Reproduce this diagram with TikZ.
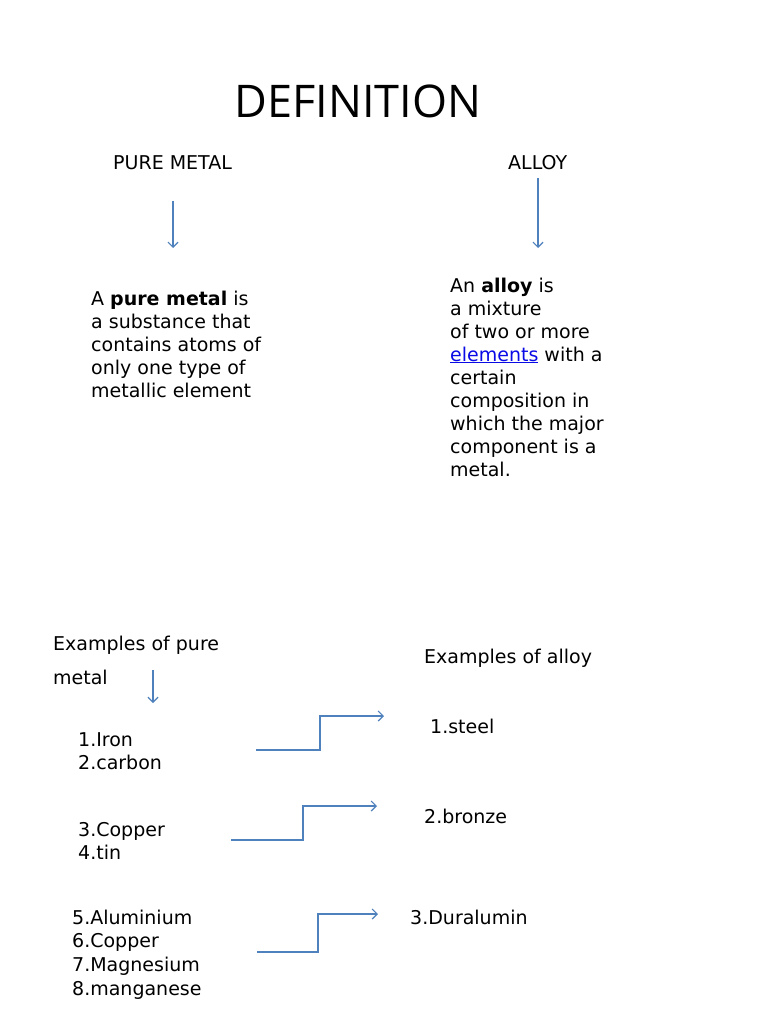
\documentclass[tikz,border=0pt]{standalone}
\usepackage{fontspec}
\setmainfont{DejaVu Sans}
\newfontfamily\titlefont{Open Sans}
\usetikzlibrary{arrows.meta}
\definecolor{arrowblue}{RGB}{79,129,189}
\definecolor{linkblue}{RGB}{10,10,230}

\begin{document}
\begin{tikzpicture}[x=1pt,y=-1pt,
  txt/.style={anchor=base west,inner sep=0pt,align=left,font=\fontsize{19}{23}\selectfont},
  flow/.style={draw=arrowblue,line width=1.2pt,-{Straight Barb[length=5pt,width=10pt]}}]
\fill[white] (0,0) rectangle (768,1024);
\useasboundingbox (0,0) rectangle (768,1024);

% headings
\node[anchor=base,inner sep=0pt,font=\titlefont\fontsize{45}{54}\selectfont] (title) at (358,118) {DEFINITION};
\node[txt] (pure) at (113,170) {PURE METAL};
\node[txt] (alloy) at (508,170) {ALLOY};

% definitions (anchored at the last line)
\node[txt] (puredef) at (91,397) {A \textbf{pure metal} is\\a substance that\\contains atoms of\\only one type of\\metallic element};
\node[txt] (alloydef) at (450,476) {An \textbf{alloy} is\\a mixture\\of two or more\\\textcolor{linkblue}{\underline{elements}} with a\\certain\\composition in\\which the major\\component is a\\metal.};

\coordinate (p1) at (173,201);
\coordinate (p2) at (173,248);
\coordinate (a1) at (538,178);
\coordinate (a2) at (538,248);
\draw[flow] (p1) -- (p2);
\draw[flow] (a1) -- (a2);

% examples
\node[txt] (expure) at (53,650) {Examples of pure};
\node[txt] (expure2) at (53,684) {metal};
\node[txt] (exalloy) at (424,663) {Examples of alloy};
\coordinate (e1) at (153,670);
\coordinate (e2) at (153,703);
\draw[flow] (e1) -- (e2);

\node[txt] (g1) at (78,769) {1.Iron\\2.carbon};
\node[txt] (g2) at (78,859) {3.Copper\\4.tin};
\node[txt,font=\fontsize{19}{23.6}\selectfont] (g3) at (72,995) {5.Aluminium\\6.Copper\\7.Magnesium\\8.manganese};

\node[txt] (steel) at (430,733) {1.steel};
\node[txt] (bronze) at (424,823) {2.bronze};
\node[txt] (dural) at (410,924) {3.Duralumin};

\coordinate (s1) at (256,750);
\coordinate (t1) at (384,716);
\coordinate (s2) at (231,840);
\coordinate (t2) at (377,806);
\coordinate (s3) at (257,952);
\coordinate (t3) at (378,914);
\draw[flow] (s1) -- (320,750) |- (t1);
\draw[flow] (s2) -- (303,840) |- (t2);
\draw[flow] (s3) -- (318,952) |- (t3);
\end{tikzpicture}
\end{document}
